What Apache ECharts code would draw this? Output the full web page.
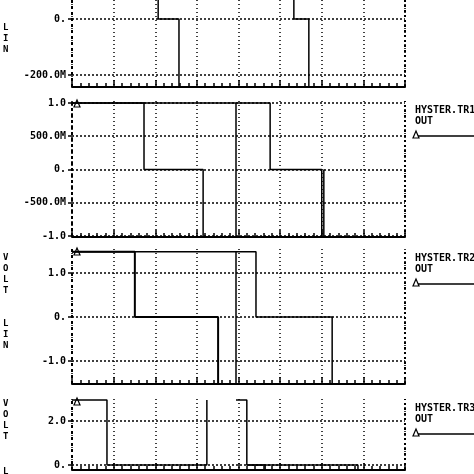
<!DOCTYPE html>
<html><head><meta charset="utf-8">
<script src="https://cdn.jsdelivr.net/npm/echarts@6/dist/echarts.min.js"></script>
<style>html,body{margin:0;background:#fff}#main{width:474px;height:474px}</style>
</head><body><div id="main"></div>
<script>
// panel y ranges and labelled levels
var yMin = [-0.243, -1.015, -1.52, -0.23];
var yMax = [0.068, 1.03, 1.545, 3.0];
var yLevels = [[0, -0.2], [1, 0.5, 0, -0.5, -1], [1, 0, -1], [2, 0]];
var yLabels = {'1': '1.0', '0.5': '500.0M', '0': '0.', '-0.5': '-500.0M', '-1': '-1.0', '-0.2': '-200.0M', '2': '2.0'};
var rightNames = [null, 'HYSTER.TR1', 'HYSTER.TR2', 'HYSTER.TR3'];

// traces per panel (time in divisions, value in volts)
var traces = [
  [
    [[0, 0.5], [2.07, 0.5], [2.07, 0], [2.57, 0], [2.57, -0.243], [8, -0.243]],
    [[5.33, 0.5], [5.33, 0], [5.69, 0], [5.69, -0.243]]
  ],
  [
    [[0, 1], [1.73, 1], [1.73, 0], [3.15, 0], [3.15, -1.015], [8, -1.015]],
    [[0, 1], [4.76, 1], [4.76, 0], [6.0, 0], [6.0, -1.015], [8, -1.015]],
    [[6.05, 0], [6.05, -1.015]],
    [[3.94, 1], [3.94, -1.015]]
  ],
  [
    [[0, 1.48], [1.51, 1.48], [1.51, 0], [3.51, 0], [3.51, -1.52], [8, -1.52]],
    [[0, 1.48], [4.42, 1.48], [4.42, 0], [6.25, 0], [6.25, -1.52], [8, -1.52]],
    [[3.94, 1.48], [3.94, -1.52]]
  ],
  [
    [[0, 2.95], [0.84, 2.95], [0.84, 0], [3.24, 0], [3.24, 2.95]],
    [[3.94, 2.95], [4.2, 2.95], [4.2, 0], [4.64, 0], [4.64, -0.23]],
    [[4.2, 0], [6.87, 0], [6.87, -0.23]]
  ]
];

var grids = [[0, 87], [101, 136], [249, 135], [399, 71]];
var font = 'DejaVu Sans Mono';

var option = {
  backgroundColor: '#fff',
  animation: false,
  grid: [], xAxis: [], yAxis: [], series: [], graphic: []
};

grids.forEach(function (g, i) {
  option.grid.push({left: 72, width: 333, top: g[0], height: g[1], show: false});
  option.xAxis.push({
    type: 'value', gridIndex: i, min: 0, max: 8, interval: 1,
    axisLine: {show: true, onZero: false, lineStyle: {color: '#000', width: 2}},
    axisTick: {show: true, inside: true, length: 7, lineStyle: {color: '#000', width: 1.5}},
    minorTick: {show: true, splitNumber: 5, length: 4, lineStyle: {color: '#000', width: 1.5}},
    axisLabel: {show: false},
    splitLine: {show: true, lineStyle: {color: '#000', type: [1, 3], width: 1.5}}
  });
  option.yAxis.push({
    type: 'value', gridIndex: i, min: yMin[i], max: yMax[i],
    axisLine: {show: false},
    splitLine: {show: false},
    axisTick: {show: true, inside: false, customValues: yLevels[i], length: 4, lineStyle: {color: '#000', width: 1.5}},
    axisLabel: {show: true, customValues: yLevels[i], margin: 6,
      fontFamily: font, fontWeight: 'bold', fontSize: 10, color: '#000',
      formatter: function (v) { return yLabels[String(Math.round(v * 10) / 10)] || ''; }}
  });
  // horizontal dotted grid lines plus left/right frame
  option.series.push({
    type: 'line', xAxisIndex: i, yAxisIndex: i, data: [], silent: true,
    markLine: {symbol: 'none', silent: true, label: {show: false},
      lineStyle: {color: '#000', type: [2, 2], width: 1.5},
      data: yLevels[i].map(function (v) { return {yAxis: v}; })
        .concat([{xAxis: 0, lineStyle: {type: [3, 3], width: 2}}, {xAxis: 8, lineStyle: {type: [2, 3], width: 2}}])}
  });
  traces[i].forEach(function (t, k) {
    option.series.push({
      type: 'line', xAxisIndex: i, yAxisIndex: i, data: t, symbol: 'none',
      clip: true, lineStyle: {color: '#000', width: (i === 2 && k === 0) ? 2 : 1.5}
    });
  });
  if (rightNames[i]) {
    option.graphic.push(
      {type: 'text', left: 415, top: g[0] + 4, style: {text: rightNames[i] + '\nOUT', font: 'bold 10px ' + font, fill: '#000', lineHeight: 11}},
      {type: 'line', shape: {x1: 416, y1: g[0] + 35, x2: 474, y2: g[0] + 35}, style: {stroke: '#000', lineWidth: 1.5}},
      {type: 'polygon', shape: {points: [[413, g[0] + 37], [419, g[0] + 37], [416, g[0] + 30]]}, style: {fill: '#fff', stroke: '#000', lineWidth: 1.2}},
      {type: 'polygon', shape: {points: [[74, g[0] + 6], [80, g[0] + 6], [77, g[0] - 1]]}, style: {fill: '#fff', stroke: '#000', lineWidth: 1.2}}
    );
  }
});

// vertical axis titles
function vtext(str, x, y) {
  option.graphic.push({type: 'text', left: x, top: y, style: {text: str.split('').join('\n'), font: 'bold 9px ' + font, fill: '#000', lineHeight: 11}});
}
vtext('LIN', 3, 22);
vtext('VOLT', 3, 252);
vtext('LIN', 3, 318);
vtext('VOLT', 3, 398);
vtext('L', 3, 466);

var myChart = echarts.init(document.getElementById('main'));
myChart.setOption(option);
</script></body></html>
